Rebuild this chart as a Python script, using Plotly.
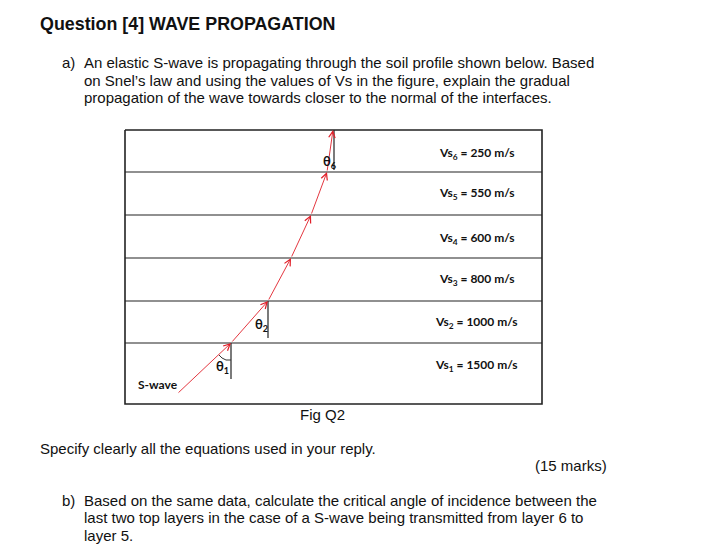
import plotly.graph_objects as go

# everything is measured in picture pixels, y runs downwards
box_x = [125, 542, 542, 125, 125]
box_y = [130, 130, 404, 404, 130]
interface_y = [172, 215, 258, 301, 343]
wave_x = [177, 231, 268, 291, 311, 327, 333]
wave_y = [394, 343, 301, 258, 215, 172, 130]
normal_x = [231, 268, 334]
normal_top = [343, 301, 130]
normal_bottom = [379, 338, 170]
arc_x = [219, 222, 226, 231]
arc_y = [355, 358, 360, 360]

vs_labels = ["250", "550", "600", "800", "1000", "1500"]
vs_layers = ["6", "5", "4", "3", "2", "1"]
vs_y = [153, 193, 238, 279, 322, 365]
vs_x = [477, 477, 477, 477, 476, 476]

theta_labels = ["1", "2", "6"]
theta_x = [222, 261, 329]
theta_y = [367, 325, 162]

page_lines = [
    ("Question [4] WAVE PROPAGATION", 38, 24, 17.85, True),
    ("a)", 60, 62, 15, False),
    ("An elastic S-wave is propagating through the soil profile shown below. Based", 82, 62, 15, False),
    ("on Snel’s law and using the values of Vs in the figure, explain the gradual", 82, 80, 15, False),
    ("propagation of the wave towards closer to the normal of the interfaces.", 82, 97, 15, False),
    ("Fig Q2", 298, 414, 15, False),
    ("Specify clearly all the equations used in your reply.", 38, 448, 15, False),
    ("(15 marks)", 533, 465, 15, False),
    ("b)", 60, 500, 15, False),
    ("Based on the same data, calculate the critical angle of incidence between the", 82, 500, 15, False),
    ("last two top layers in the case of a S-wave being transmitted from layer 6 to", 82, 517, 15, False),
    ("layer 5.", 82, 535, 15, False),
]

fig = go.Figure()

fig.add_trace(go.Scatter(x=box_x, y=box_y, mode="lines", line=dict(color="#222222", width=1.6)))
for y in interface_y:
    fig.add_trace(go.Scatter(x=[box_x[0], box_x[1]], y=[y, y], mode="lines",
                             line=dict(color="#222222", width=1.2)))

for x, top, bottom in zip(normal_x, normal_top, normal_bottom):
    fig.add_trace(go.Scatter(x=[x, x], y=[top, bottom], mode="lines",
                             line=dict(color="#222222", width=1.2)))
fig.add_trace(go.Scatter(x=arc_x, y=arc_y, mode="lines", line=dict(color="#333333", width=1)))

# red ray, one arrow per layer with a chevron head
for i in range(len(wave_x) - 1):
    fig.add_annotation(x=wave_x[i + 1], y=wave_y[i + 1], ax=wave_x[i], ay=wave_y[i],
                       xref="x", yref="y", axref="x", ayref="y", text="",
                       showarrow=True, arrowhead=5, arrowsize=1.4, arrowwidth=0.9,
                       arrowcolor="#e0202a")

for text, x, y, size, bold in page_lines:
    fig.add_annotation(x=x, y=y, text=f"<b>{text}</b>" if bold else text, showarrow=False,
                       xanchor="left", yanchor="middle",
                       font=dict(family="Liberation Sans", size=size, color="#111111"))

for layer, value, x, y in zip(vs_layers, vs_labels, vs_x, vs_y):
    fig.add_annotation(x=x, y=y, text=f"<b>Vs<sub>{layer}</sub> = {value} m/s</b>", showarrow=False,
                       font=dict(family="Lato", size=12, color="#111111"))

fig.add_annotation(x=136, y=384, text="<b>S-wave</b>", showarrow=False, xanchor="left",
                   font=dict(family="Lato", size=12, color="#111111"))

for sub, x, y in zip(theta_labels, theta_x, theta_y):
    fig.add_annotation(x=x, y=y, text=f"<b>θ<sub>{sub}</sub></b>", showarrow=False,
                       font=dict(family="Lato", size=13, color="#111111"))

fig.update_layout(
    width=709, height=557,
    margin=dict(l=0, r=0, t=0, b=0),
    paper_bgcolor="white", plot_bgcolor="white",
    showlegend=False,
    xaxis=dict(range=[0, 709], visible=False),
    yaxis=dict(range=[557, 0], visible=False),
)

fig.write_html("out.html", config=dict(displayModeBar=False),
               post_script="document.body.style.margin='0';")
